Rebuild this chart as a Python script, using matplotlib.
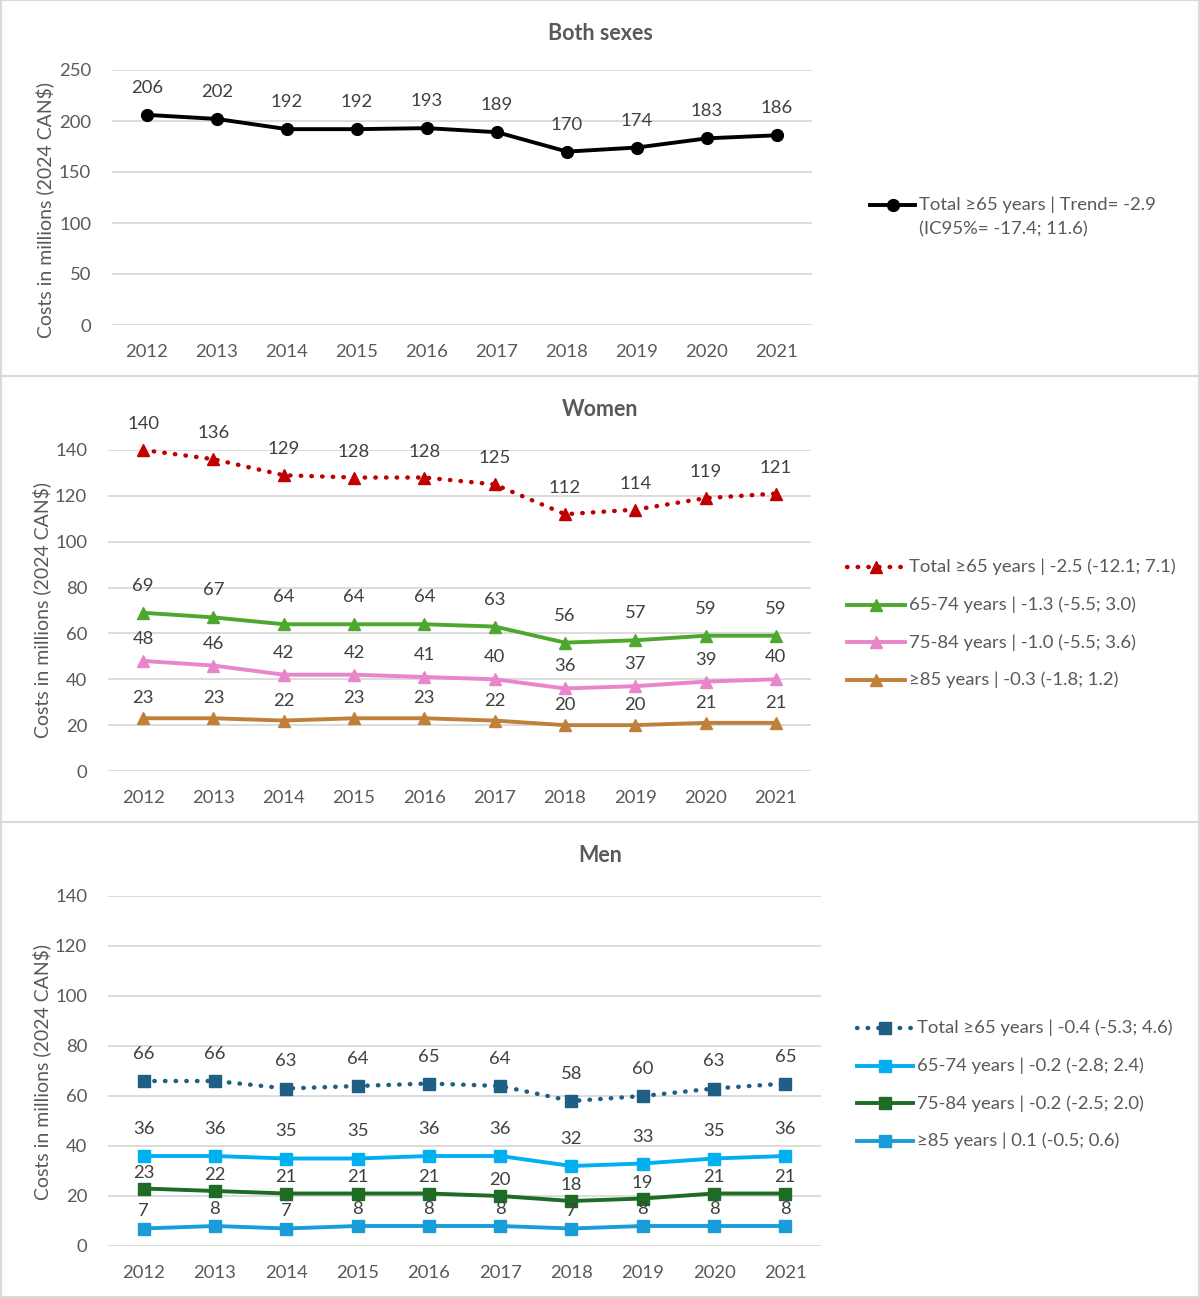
import matplotlib
matplotlib.use("Agg")
import matplotlib.pyplot as plt
from matplotlib.lines import Line2D
from matplotlib.patches import Rectangle

plt.rcParams['font.family'] = ['Lato', 'DejaVu Sans']

years = ["2012", "2013", "2014", "2015", "2016", "2017", "2018", "2019", "2020", "2021"]

both_total = [206, 202, 192, 192, 193, 189, 170, 174, 183, 186]

women_total = [140, 136, 129, 128, 128, 125, 112, 114, 119, 121]
women_65_74 = [69, 67, 64, 64, 64, 63, 56, 57, 59, 59]
women_75_84 = [48, 46, 42, 42, 41, 40, 36, 37, 39, 40]
women_85 = [23, 23, 22, 23, 23, 22, 20, 20, 21, 21]

men_total = [66, 66, 63, 64, 65, 64, 58, 60, 63, 65]
men_65_74 = [36, 36, 35, 35, 36, 36, 32, 33, 35, 36]
men_75_84 = [23, 22, 21, 21, 21, 20, 18, 19, 21, 21]
men_85 = [7, 8, 7, 8, 8, 8, 7, 8, 8, 8]

both_labels = ["Total ≥65 years | Trend= -2.9", "(IC95%= -17.4; 11.6)"]
women_labels = ["Total ≥65 years | -2.5 (-12.1; 7.1)", "65-74 years | -1.3 (-5.5; 3.0)",
                "75-84 years | -1.0 (-5.5; 3.6)", "≥85 years | -0.3 (-1.8; 1.2)"]
men_labels = ["Total ≥65 years | -0.4 (-5.3; 4.6)", "65-74 years | -0.2 (-2.8; 2.4)",
              "75-84 years | -0.2 (-2.5; 2.0)", "≥85 years | 0.1 (-0.5; 0.6)"]

W, H = 1200, 1298
fig = plt.figure(figsize=(W / 100, H / 100), dpi=100)
fig.patch.set_facecolor("white")

TXT = "#595959"
LBL = "#404040"
GRID = "#D9D9D9"
FS = 13.3
YFS = 14
TFS = 15.5
DOT = (0, (0.1, 2.3))


def fx(px):
    return px / W


def fy(py):
    return 1 - py / H


def make_ax(left, right, top, bottom, ymax, ystep):
    ax = fig.add_axes([fx(left), fy(bottom), (right - left) / W, (bottom - top) / H])
    ax.set_xlim(-0.5, len(years) - 0.5)
    ax.set_ylim(0, ymax)
    ax.set_yticks(range(0, ymax + 1, ystep))
    ax.set_xticks(range(len(years)))
    ax.set_xticklabels(years)
    for s in ax.spines.values():
        s.set_visible(False)
    ax.grid(axis="y", color=GRID, lw=1.3)
    ax.set_axisbelow(True)
    ax.tick_params(length=0, labelsize=FS, labelcolor=TXT)
    ax.tick_params(axis="x", pad=14)
    ax.tick_params(axis="y", pad=15)
    return ax


def plot_series(ax, vals, color, marker, ms, ls="-", off_px=27):
    x = list(range(len(vals)))
    if ls == "-":
        ax.plot(x, vals, color=color, lw=2.8, marker=marker, ms=ms, zorder=3,
                solid_capstyle="round", clip_on=False)
    else:
        ax.plot(x, vals, color=color, lw=3.2, ls=DOT, dash_capstyle="round", zorder=3,
                clip_on=False)
        ax.plot(x, vals, color=color, lw=0, marker=marker, ms=ms, zorder=4, clip_on=False)
    for xi, v in zip(x, vals):
        ax.annotate(str(v), (xi, v), xytext=(0, off_px * 0.72), textcoords="offset points",
                    ha="center", va="center", fontsize=FS, color=LBL)


def legend_entry(x0, x1, y, color, marker, ms, text, ls="-"):
    if ls == "-":
        fig.add_artist(Line2D([fx(x0), fx(x1)], [fy(y), fy(y)], color=color, lw=2.8,
                              transform=fig.transFigure))
    else:
        fig.add_artist(Line2D([fx(x0), fx(x1)], [fy(y), fy(y)], color=color, lw=3.2, ls=DOT,
                              dash_capstyle="round", transform=fig.transFigure))
    fig.add_artist(Line2D([fx((x0 + x1) / 2)], [fy(y)], color=color, lw=0, marker=marker, ms=ms,
                          transform=fig.transFigure))
    fig.text(fx(x1 + 4), fy(y), text, ha="left", va="center", fontsize=FS, color=TXT)


# panel borders
for top, bot in [(0, 376), (376, 822), (822, 1297)]:
    fig.add_artist(Rectangle((fx(1), fy(bot)), (W - 2) / W, (bot - top) / H, fill=False,
                             ec=GRID, lw=1.5, transform=fig.transFigure))

# Panel 1
ax1 = make_ax(112, 812, 70, 325, 250, 50)
plot_series(ax1, both_total, "black", "o", 8.5, "-", 27)
fig.text(0.5, fy(33), "Both sexes", ha="center", va="center", fontsize=TFS, fontweight="bold", color=TXT)
fig.text(fx(45), fy(210), "Costs in millions (2024 CAN$)", rotation=90, ha="center", va="center",
         fontsize=YFS, color=TXT)
legend_entry(870, 915, 205, "black", "o", 8.5, both_labels[0])
fig.text(fx(919), fy(229), both_labels[1], ha="left", va="center", fontsize=FS, color=TXT)

# Panel 2
ax2 = make_ax(108, 811, 450, 771, 140, 20)
w_series = [(women_total, "#C00000", ":", 26), (women_65_74, "#4EA72E", "-", 27),
            (women_75_84, "#E885CB", "-", 22), (women_85, "#C0803A", "-", 20)]
for vals, c, ls, off in w_series:
    plot_series(ax2, vals, c, "^", 8.5, ls, off)
fig.text(0.5, fy(409), "Women", ha="center", va="center", fontsize=TFS, fontweight="bold", color=TXT)
fig.text(fx(42), fy(610), "Costs in millions (2024 CAN$)", rotation=90, ha="center", va="center",
         fontsize=YFS, color=TXT)
for i, ((vals, c, ls, off), lab) in enumerate(zip(w_series, women_labels)):
    legend_entry(847, 905, 567 + i * 37.7, c, "^", 8.5, lab, ls)

# Panel 3
ax3 = make_ax(108, 821, 896, 1246, 140, 20)
m_series = [(men_total, "#1F5F85", ":", 27), (men_65_74, "#00B0F0", "-", 27),
            (men_75_84, "#1D6B24", "-", 16), (men_85, "#1A9CD8", "-", 17)]
for vals, c, ls, off in m_series:
    plot_series(ax3, vals, c, "s", 8.5, ls, off)
fig.text(0.5, fy(855), "Men", ha="center", va="center", fontsize=TFS, fontweight="bold", color=TXT)
fig.text(fx(42), fy(1072), "Costs in millions (2024 CAN$)", rotation=90, ha="center", va="center",
         fontsize=YFS, color=TXT)
for i, ((vals, c, ls, off), lab) in enumerate(zip(m_series, men_labels)):
    legend_entry(857, 913, 1028 + i * 37.7, c, "s", 8.5, lab, ls)

fig.savefig("out.png", dpi=100, facecolor="white")
